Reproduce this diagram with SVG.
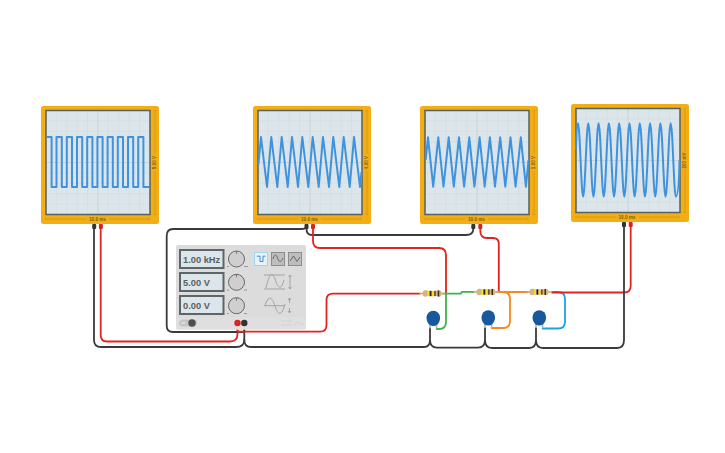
<svg xmlns="http://www.w3.org/2000/svg" width="725" height="453" viewBox="0 0 725 453">
<style>
text{font-family:"Liberation Sans",Arial,sans-serif}
.w{fill:none;stroke-width:1.8;stroke-linejoin:round;stroke-linecap:round}
.k{stroke:#3a3a3a}.r{stroke:#e2231f}.g{stroke:#3fb24a}.o{stroke:#f58a1e}.b{stroke:#1aa5e0}
.trace{fill:none;stroke:#3f93de;stroke-width:2;stroke-linejoin:round}
.lab{font-size:4.6px;font-weight:bold;fill:#7a5f16;text-anchor:middle}
.dtx{font-size:9.3px;font-weight:bold;fill:#5a5f61}
.disp{fill:#dce6ea;stroke:#5c6668;stroke-width:2}
.knob{fill:#cfcfcf;stroke:#666;stroke-width:1}
.ico{fill:none;stroke:#a3a3a3;stroke-width:1}
.btn{fill:#bdbdbd;stroke:#8d8d8d;stroke-width:1}
.bi{fill:none;stroke:#5f5f5f;stroke-width:.9}
.tk{fill:#333}.tr{fill:#d8231f}
.lead{stroke:#b5b5b5;stroke-width:1.6}
</style>
<defs>
<g id="scopeBody">
<rect width="118" height="118" rx="2.5" fill="#f3ae16"/>
<rect x="5" y="4.5" width="104" height="104" fill="#dce6ea"/>
<path d="M15.4 4.5V108.500M25.800 4.500V108.500M36.200 4.500V108.500M46.600 4.500V108.500M67.400 4.500V108.500M77.800 4.500V108.500M88.200 4.500V108.500M98.600 4.500V108.500M5 14.900H109M5 25.300H109M5 35.700H109M5 46.100H109M5 66.900H109M5 77.300H109M5 87.700H109M5 98.100H109" stroke="#d0dbdf" stroke-width=".6" fill="none"/>
<path d="M57 4.500V108.500M5 56.500H109" stroke="#c0cbd0" stroke-width=".7" fill="none"/>
<rect x="5" y="4.500" width="104" height="104" fill="none" stroke="#566163" stroke-width="1.500"/>
<path d="M5 113H45.700M68 113H108M5 111.800V114.200M108 111.800V114.200M114 4.500V48M114 65V108.500M112.800 4.500H115.200M112.800 108.500H115.200" stroke="#cf9214" stroke-width=".7" fill="none"/>
</g>
<g id="res">
<path d="M-13 0H-9M9 0H13" stroke="#b7ab90" stroke-width="1.600"/>
<path d="M-7 -3.200C-5 -3.200-5 -2.500-3.500 -2.500H3.500C5 -2.500 5 -3.200 7 -3.200C10.500 -3.200 10.500 3.200 7 3.200C5 3.200 5 2.500 3.500 2.500H-3.500C-5 2.500-5 3.200-7 3.200C-10.500 3.200-10.500 -3.200-7 -3.200Z" fill="#d5b57f"/>
<rect x="-4.800" y="-2.700" width="1.800" height="5.400" fill="#f4e21e"/><rect x="-2.500" y="-2.700" width="1.800" height="5.400" fill="#2a2118"/><rect x="-.3" y="-2.700" width="1.800" height="5.400" fill="#f4e21e"/><rect x="2" y="-2.700" width="1.600" height="5.400" fill="#7a4a1c"/><rect x="5.500" y="-3" width="1.500" height="6" fill="#3a2a18"/>
</g>
<g id="cap">
<path d="M-3.300 6V10.500M3.300 6V10.500" class="lead"/>
<path d="M-3.600 7C-6 5-6.800 2-6.800 -.5A6.800 6.800 0 0 1 6.800 -.5C6.800 2 6 5 3.600 7C1.500 8.200-1.500 8.200-3.600 7Z" fill="#18589c"/>
</g>
</defs>

<g id="connectors">
<path class="w k" d="M94 226V340Q94 347 101 347H236Q244.300 347 244.300 340V323"/>
<path class="w r" d="M100.700 226V335Q100.700 341.500 107 341.500H230Q237.500 341.500 237.500 334V323"/>
<path class="w k" d="M244.300 323V332H173Q166.700 332 166.700 326V236Q166.700 229 173 229H301Q306.500 229 306.500 226"/>
<path class="w k" d="M306.500 226V229Q306.500 235 312 235H466Q473.300 235 473.300 229V226"/>
<path class="w r" d="M313 226V241Q313 248 320 248H439Q446 248 446 255V293.500"/>
<path class="w r" d="M237.500 323V331.700H320Q326.500 331.700 326.500 325V300Q326.500 293.700 333 293.700H420"/>
<path class="w r" d="M480.300 226V231Q480.300 238 487 238H493Q498.800 238 498.800 244V292"/>
<path class="w g" d="M443 293.700H446M446 293.700V322Q446 329 439 329H436.700M446 293.700H460.700L462 291.800H474"/>
<path class="w o" d="M497 292H503Q510 292 510 299V321Q510 328 503 328H491.700M497 292H528"/>
<path class="w b" d="M553 292H558Q565 292 565 299V322Q565 328.500 558 328.500H542.700"/>
<path class="w r" d="M630.700 226V286Q630.700 292.500 624 292.500H552"/>
<path class="w k" d="M244.300 340Q244.300 347 251 347H424Q430 347 430 340V328M430 340Q430 347.600 437 347.600H478Q485 347.600 485 340V328M485 340Q485 348 492 348H529Q536 348 536 340V328M536 340Q536 348 543 348H617Q624 348 624 340V226"/>
</g>

<g id="scope1">
<use href="#scopeBody" x="41" y="106"/>
<path class="trace" d="M46.700 137H51.600V187H56.500V137H61.800V187H66.800V137H72V187H77V137H82.200V187H87.200V137H92.400V187H97.400V137H102.600V187H107.600V137H112.800V187H117.800V137H123V187H128V137H133.200V187H138.200V137H143.400V187H149.500"/>
<text class="lab" x="97.500" y="220.700">10.0 ms</text>
<text class="lab" transform="translate(155.800 162.500) rotate(-90)">5.00 V</text>
<rect class="tk" x="92.200" y="224" width="4" height="5" rx="1"/><rect class="tr" x="98.900" y="224" width="4" height="5" rx="1"/>
</g>
<g id="scope2">
<use href="#scopeBody" x="253" y="106"/>
<polyline class="trace" points="258.300,165 261,137 267,187 271.300,137 277.300,187 281.700,137 287.700,187 292,137 298,187 302.300,137 308.300,187 312.700,137 318.700,187 323,137 329,187 333.300,137 339.300,187 343.700,137 349.700,187 354,137 360,187 361.500,172"/>
<text class="lab" x="309.500" y="220.700">10.0 ms</text>
<text class="lab" transform="translate(367.800 162.500) rotate(-90)">4.00 V</text>
<rect class="tk" x="304.500" y="224" width="4" height="5" rx="1"/><rect class="tr" x="311" y="224" width="4" height="5" rx="1"/>
</g>
<g id="scope3">
<use href="#scopeBody" x="420" y="106"/>
<polyline class="trace" points="425.700,160 428,137.300 433.200,186.700 438.300,137.300 443.500,186.700 448.700,137.300 453.800,186.700 459,137.300 464.100,186.700 469.300,137.300 474.400,186.700 479.600,137.300 484.700,186.700 489.900,137.300 495,186.700 500.200,137.300 505.300,186.700 510.500,137.300 515.600,186.700 520.800,137.300 525.900,186.700 528.500,160"/>
<text class="lab" x="476.500" y="220.700">10.0 ms</text>
<text class="lab" transform="translate(534.800 162.500) rotate(-90)">1.00 V</text>
<rect class="tk" x="471.300" y="224" width="4" height="5" rx="1"/><rect class="tr" x="478.300" y="224" width="4" height="5" rx="1"/>
</g>
<g id="scope4">
<use href="#scopeBody" x="571" y="104"/>
<path class="trace" d="M576 150Q576.800 123.300 578 123.300c1.880 0 3.270 73.400 5.150 73.400c1.880 0 3.270-73.400 5.150-73.400c1.880 0 3.270 73.400 5.150 73.400c1.880 0 3.270-73.400 5.150-73.400c1.880 0 3.270 73.400 5.150 73.400c1.880 0 3.270-73.400 5.150-73.400c1.880 0 3.270 73.400 5.150 73.400c1.880 0 3.270-73.400 5.150-73.400c1.880 0 3.270 73.400 5.150 73.400c1.880 0 3.270-73.400 5.150-73.400c1.880 0 3.270 73.400 5.150 73.400c1.880 0 3.270-73.400 5.150-73.400c1.880 0 3.270 73.400 5.150 73.400c1.880 0 3.270-73.400 5.150-73.400c1.880 0 3.270 73.400 5.150 73.400c1.880 0 3.270-73.400 5.150-73.400c1.880 0 3.270 73.400 5.150 73.400c1.880 0 3.270-73.400 5.150-73.400c1.880 0 3.270 73.400 5.150 73.400Q678.800 196.700 679.500 160"/>
<text class="lab" x="627" y="218.700">10.0 ms</text>
<text class="lab" transform="translate(685.800 160.500) rotate(-90)">200 mV</text>
<rect class="tk" x="622" y="222" width="4" height="5" rx="1"/><rect class="tr" x="628.700" y="222" width="4" height="5" rx="1"/>
</g>

<g id="generator">
<rect x="176" y="245" width="130" height="84.500" rx="2" fill="#dcdcdc"/>
<rect x="176" y="317.500" width="130" height="12" rx="2" fill="#dfdfdf"/>
<rect class="disp" x="180" y="250" width="43.500" height="18"/>
<rect class="disp" x="180" y="273" width="43.500" height="18"/>
<rect class="disp" x="180" y="296" width="43.500" height="18"/>
<text class="dtx" x="183" y="262.500">1.00 kHz</text>
<text class="dtx" x="183" y="285.500">5.00 V</text>
<text class="dtx" x="183" y="308.500">0.00 V</text>
<circle class="knob" cx="236.500" cy="259" r="8"/><circle class="knob" cx="236.500" cy="282.300" r="8"/><circle class="knob" cx="236.500" cy="305.700" r="8"/>
<path d="M236.500 251V254M236.500 274.300V277.300M236.500 297.700V300.700" stroke="#666" stroke-width=".8"/>
<path d="M227 266.500H229M244 266.500H248M227 290H229M244 290H247M227 313.500H229M244 313.500H247" stroke="#888" stroke-width=".8"/>
<rect x="254.500" y="252.500" width="13" height="13" fill="#e6f2f6" stroke="#9ed6ee" stroke-width="1"/>
<path d="M256.800 256.200H260V261.500H263V256.200H265.500" fill="none" stroke="#3a8fdc" stroke-width="1"/>
<rect class="btn" x="271.500" y="252.500" width="13" height="13"/>
<path class="bi" d="M273 259C275 252 277 256 278 259S281 263 283 258"/>
<rect class="btn" x="288.500" y="252.500" width="13" height="13"/>
<path class="bi" d="M290 261L293.500 256L297 261.500L300 257"/>
<path class="ico" d="M264 275H285M264 289H285M266 288C270 270 273 272 276 282C279 290 282 288 284 280M290 275V289M288.500 277L290 275L291.500 277M288.500 287L290 289L291.500 287"/>
<path class="ico" d="M264 305.700H285M265 306C268 295 272 296 275 306S282 316 285 304M289.500 298V303M289.500 308V313M288 300L289.500 298L291 300M288 311L289.500 313L291 311"/>
<rect x="179" y="319.500" width="18" height="7" rx="3.500" fill="#c6c6c6"/>
<circle cx="192" cy="323" r="3.700" fill="#4a4f52"/>
<path d="M181.500 323H185" stroke="#fff" stroke-width=".8"/>
<path d="M281 321H292M281 325H292M295 325Q298 319 300 323T304 323" fill="none" stroke="#cfcfcf" stroke-width=".8"/>
<circle class="tr" cx="237.500" cy="323" r="3.200"/><circle class="tk" cx="244.300" cy="323" r="3.200"/>
</g>

<g id="r1"><use href="#res" x="432.200" y="293.500"/></g>
<g id="r2"><use href="#res" x="486" y="292"/></g>
<g id="r3"><use href="#res" x="539" y="292"/></g>
<g id="c1"><use href="#cap" x="433.300" y="318"/></g>
<g id="c2"><use href="#cap" x="488.300" y="317.500"/></g>
<g id="c3"><use href="#cap" x="539.300" y="317.500"/></g>
</svg>
